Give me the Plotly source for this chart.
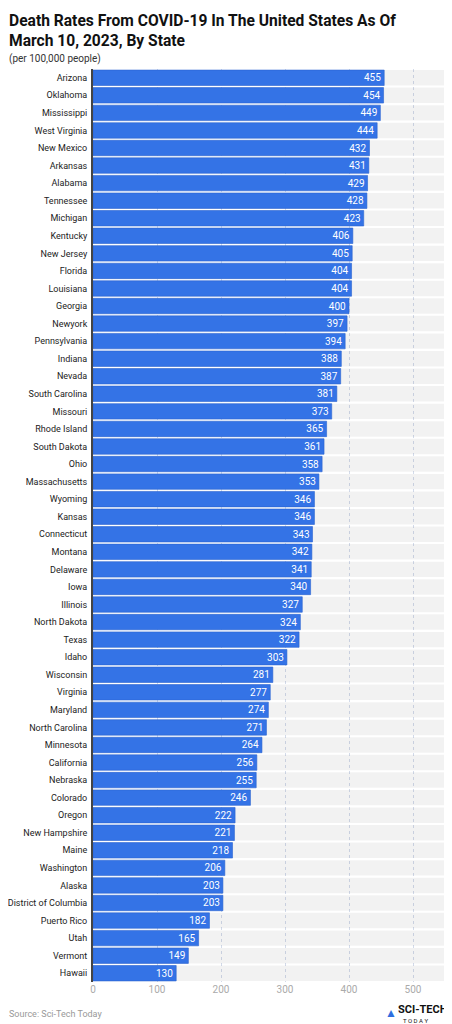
import plotly.graph_objects as go

states = [
    "Arizona", "Oklahoma", "Mississippi", "West Virginia", "New Mexico",
    "Arkansas", "Alabama", "Tennessee", "Michigan", "Kentucky",
    "New Jersey", "Florida", "Louisiana", "Georgia", "Newyork",
    "Pennsylvania", "Indiana", "Nevada", "South Carolina", "Missouri",
    "Rhode Island", "South Dakota", "Ohio", "Massachusetts", "Wyoming",
    "Kansas", "Connecticut", "Montana", "Delaware", "Iowa",
    "Illinois", "North Dakota", "Texas", "Idaho", "Wisconsin",
    "Virginia", "Maryland", "North Carolina", "Minnesota", "California",
    "Nebraska", "Colorado", "Oregon", "New Hampshire", "Maine",
    "Washington", "Alaska", "District of Columbia", "Puerto Rico", "Utah",
    "Vermont", "Hawaii",
]
rates = [
    455, 454, 449, 444, 432,
    431, 429, 428, 423, 406,
    405, 404, 404, 400, 397,
    394, 388, 387, 381, 373,
    365, 361, 358, 353, 346,
    346, 343, 342, 341, 340,
    327, 324, 322, 303, 281,
    277, 274, 271, 264, 256,
    255, 246, 222, 221, 218,
    206, 203, 203, 182, 165,
    149, 130,
]
x_max = 550
x_ticks = [0, 100, 200, 300, 400, 500]

FONT = "Roboto"
# the page body adds an 8px margin, so the figure is a bit smaller than the window
OFF = 8
W, H = 452 - OFF, 1024 - OFF
ML, MR, MT, MB = 93 - OFF, 7, 69 - OFF, 42


# pixel position in the window -> paper coordinates
def px(x, y):
    x, y = x - OFF, y - OFF
    return (x - ML) / (W - ML - MR), (H - MB - y) / (H - MT - MB)


def note(text, x, y, size, color, xanchor="left", yanchor="middle", bold=False):
    ax, ay = px(x, y)
    return dict(text=f"<b>{text}</b>" if bold else text, x=ax, y=ay,
                xref="paper", yref="paper", showarrow=False,
                xanchor=xanchor, yanchor=yanchor, align="left",
                font=dict(size=size, color=color, family=FONT))


fig = go.Figure()

# light grey band behind each row
fig.add_trace(go.Bar(
    y=states, x=[x_max] * len(states), orientation="h",
    marker=dict(color="rgba(0,0,0,0.05)", line=dict(width=0)),
    hoverinfo="skip", showlegend=False,
))

fig.add_trace(go.Bar(
    y=states, x=rates, orientation="h",
    marker=dict(color="#3473e6", line=dict(color="#2a63d0", width=0.6)),
    text=[str(v) for v in rates],
    textposition="inside", insidetextanchor="end",
    textfont=dict(color="white", size=10, family=FONT),
    constraintext="none",
    showlegend=False,
))

fig.update_layout(
    width=W, height=H,
    margin=dict(l=ML, r=MR, t=MT, b=MB, autoexpand=False),
    barmode="overlay", bargap=0.12,
    plot_bgcolor="white", paper_bgcolor="white",
    font=dict(family=FONT, color="#333333"),
    uniformtext=dict(minsize=10, mode="show"),
    xaxis=dict(
        range=[0, x_max], tickvals=x_ticks, showgrid=True,
        gridcolor="#d3dbea", griddash="dot", gridwidth=1,
        zeroline=False, showline=False, ticks="", automargin=False,
        tickfont=dict(size=10, color="#aaaaaa"),
    ),
    yaxis=dict(
        autorange="reversed", showgrid=False, zeroline=False,
        showline=True, linecolor="#444444", linewidth=1.5, ticks="",
        ticksuffix=" ", automargin=False,
        tickfont=dict(size=9, color="#222222"),
    ),
    annotations=[
        note("Death Rates From COVID-19 In The United States As Of<br>March 10, 2023, By State",
             7, 10, 15.6, "#111111", yanchor="top", bold=True),
        note("(per 100,000 people)", 7, 59, 10, "#333333"),
        note("Source: Sci-Tech Today", 7, 1014, 9, "#999999"),
        note("SCI-TECH", 450, 1009, 11, "#111111", xanchor="right", bold=True),
        note("T O D A Y", 430, 1020, 6, "#111111", xanchor="right"),
        note("▲", 391, 1013, 12, "#2f6fdf", xanchor="center", bold=True),
    ],
)

fig.write_html("out.html")
